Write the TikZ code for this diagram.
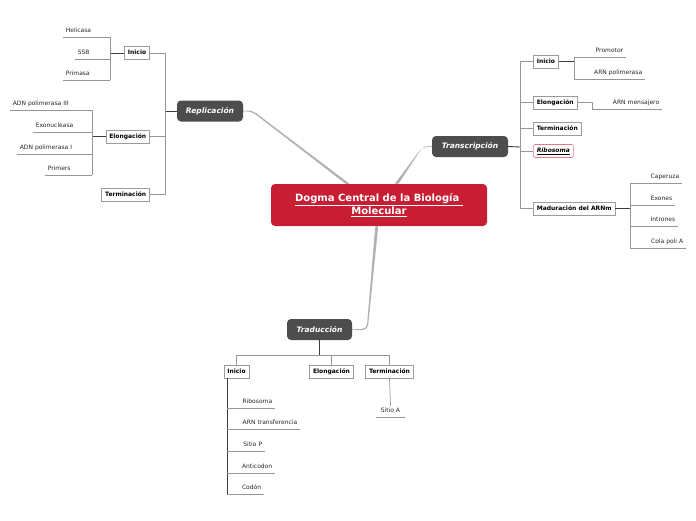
\documentclass[tikz,border=0pt]{standalone}
\usepackage{fontspec}
\setmainfont{DejaVu Sans}
\usepackage{xcolor}
\usepackage{tikz}
\usetikzlibrary{positioning, calc}
\definecolor{dogmared}{RGB}{200,30,52}
\definecolor{topicgray}{RGB}{77,77,77}
\definecolor{boxgray}{RGB}{155,155,155}
\definecolor{linkgray}{RGB}{178,178,178}
\definecolor{branchgray}{RGB}{150,150,150}
\definecolor{hubdark}{RGB}{60,60,60}
\definecolor{ribopink}{RGB}{226,118,138}
\definecolor{leafdark}{RGB}{40,40,40}
\pgfdeclarelayer{bg}
\pgfsetlayers{bg,main}
\tikzset{
  central/.style={rectangle, fill=dogmared, text=white, rounded corners=4pt,
    minimum width=216pt, minimum height=42pt, align=center,
    font=\fontsize{10}{13}\selectfont\bfseries},
  topic/.style={rectangle, fill=topicgray, text=white, rounded corners=4pt,
    minimum height=21pt, align=center,
    font=\fontsize{7.5}{9}\selectfont\bfseries\itshape},
  subbox/.style={rectangle, draw=boxgray, fill=white, line width=0.6pt,
    inner xsep=3.5pt, inner ysep=3.5pt, text height=4.6pt, text depth=1.4pt,
    font=\fontsize{6}{7}\selectfont\bfseries},
  leaf/.style={inner xsep=3pt, inner ysep=2.5pt, text height=4.6pt,
    text depth=1.4pt, text=leafdark, font=\fontsize{6}{7}\selectfont},
  leafL/.style={leaf, text width=#1, align=left, anchor=south east},
  leafR/.style={leaf, text width=#1, align=right, anchor=south west},
  branch/.style={draw=branchgray, line width=0.7pt},
  hubline/.style={draw=hubdark, line width=0.9pt}
}

\begin{document}
\begin{tikzpicture}[x=1pt, y=-1pt]
  \useasboundingbox (0,0) rectangle (696,520);
  \begin{pgfonlayer}{bg}
    \fill[white] (0,0) rectangle (696,520);
  \end{pgfonlayer}

  % Central idea
  \node[central] (dogma) at (379,205) {\underline{Dogma Central de la Biología\ }\\\underline{Molecular}};

  % Main topics
  \node[topic, minimum width=66pt] (repl) at (210,111) {Replicación};
  \node[topic, minimum width=76pt] (tran) at (470,146.5) {Transcripción};
  \node[topic, minimum width=65pt] (trad) at (319.5,329.5) {Traducción};

  % Tapered links from the centre
  \begin{pgfonlayer}{bg}
    \fill[linkgray, rounded corners=5pt]
      ($(repl.east)+(-2,-0.5)$) -- ($(repl.east)+(9.4,-0.5)$) -- ($(dogma.north)+(-25.5,3)$)
      -- ($(dogma.north)+(-29.5,3)$) -- ($(repl.east)+(8.6,0.5)$) -- ($(repl.east)+(-2,0.5)$) -- cycle;
    \fill[linkgray, rounded corners=5pt]
      ($(tran.west)+(2,-0.5)$) -- ($(tran.west)+(-8.6,-0.5)$) -- ($(dogma.north)+(17.5,3)$)
      -- ($(dogma.north)+(13.5,3)$) -- ($(tran.west)+(-9.4,0.5)$) -- ($(tran.west)+(2,0.5)$) -- cycle;
    \fill[linkgray, rounded corners=5pt]
      ($(trad.east)+(-2,-0.5)$) -- ($(trad.east)+(14.5,-0.5)$) -- ($(dogma.south)+(-3.5,-3)$)
      -- ($(dogma.south)+(-0.5,-3)$) -- ($(trad.east)+(15.5,0.5)$) -- ($(trad.east)+(-2,0.5)$) -- cycle;
  \end{pgfonlayer}

  % Replicacion
  \coordinate (rhub) at (165,111);
  \node[subbox, anchor=east] (rinicio) at (150,53) {Inicio};
  \node[subbox, anchor=east] (relong) at (150,136.5) {Elongación};
  \node[subbox, anchor=east] (rterm) at (150,194.5) {Terminación};
  \draw[hubline] (repl.west) -- (rhub);
  \draw[branch] (rinicio.east) -- (rinicio.east -| rhub) -- (rterm.east -| rhub) -- (rterm.east);
  \draw[branch] (relong.east) -- (relong.east -| rhub);

  \node[leafL=41pt] (helicasa) at (110,37) {Helicasa};
  \node[leafL=29pt] (ssb) at (110,59) {SSB};
  \node[leafL=41pt] (primasa) at (110,80) {Primasa};
  \draw[hubline] (rinicio.west) -- (rinicio.west -| helicasa.south east);
  \draw[branch] (helicasa.south east) -- (primasa.south east);

  \node[leafL=76pt] (adntres) at (92,110) {ADN polimerasa III};
  \node[leafL=53pt] (exonuc) at (92,132) {Exonucleasa};
  \node[leafL=69pt] (adnuno) at (92,154) {ADN polimerasa I};
  \node[leafL=41pt] (primers) at (92,175) {Primers};
  \draw[hubline] (relong.west) -- (relong.west -| adntres.south east);
  \draw[branch] (adntres.south east) -- (primers.south east);

  % Transcripcion
  \coordinate (thub) at (520,147);
  \node[subbox, anchor=west] (tinicio) at (533,61.5) {Inicio};
  \node[subbox, anchor=west] (telong) at (533,102.5) {Elongación};
  \node[subbox, anchor=west] (tterm) at (533,128.5) {Terminación};
  \node[subbox, anchor=west, draw=ribopink, rounded corners=2pt,
    font=\fontsize{6}{7}\selectfont\bfseries\itshape] (tribo) at (533,151) {\underline{Ribosoma}};
  \node[subbox, anchor=west] (tmad) at (533,208.5) {Maduración del ARNm};
  \draw[hubline] (tran.east) -- (thub);
  \draw[branch] (tinicio.west) -- (tinicio.west -| thub) -- (tmad.west -| thub) -- (tmad.west);
  \foreach \b in {telong, tterm, tribo}
    \draw[branch] (\b.west) -- (\b.west -| thub);

  \node[leafR=46pt] (promotor) at (574,57) {Promotor};
  \node[leafR=65pt] (arnpol) at (574,79) {ARN polimerasa};
  \draw[hubline] (tinicio.east) -- (tinicio.east -| promotor.south west);
  \draw[branch] (promotor.south west) -- (arnpol.south west);

  \node[leafR=64pt] (arnm) at (592,109) {ARN mensajero};
  \draw[branch] (telong.east) -- (telong.east -| arnm.south west) -- (arnm.south west);

  \node[leafR=46pt] (caperuza) at (630,183) {Caperuza};
  \node[leafR=39pt] (exones) at (630,205) {Exones};
  \node[leafR=42pt] (intrones) at (630,226) {Intrones};
  \node[leafR=50pt] (colapoli) at (630,248) {Cola poli A};
  \draw[hubline] (tmad.east) -- (tmad.east -| caperuza.south west);
  \draw[branch] (caperuza.south west) -- (colapoli.south west);

  % Traduccion
  \coordinate (dhub) at (319.5,355);
  \node[subbox] (dinicio) at (236.5,371.5) {Inicio};
  \node[subbox] (delong) at (331.5,371.5) {Elongación};
  \node[subbox] (dterm) at (389.5,371.5) {Terminación};
  \draw[hubline] (trad.south) -- (dhub);
  \draw[branch] (dinicio.north) -- (dinicio.north |- dhub) -- (dterm.north |- dhub) -- (dterm.north);
  \draw[branch] (delong.north) -- (delong.north |- dhub);

  \node[leafR=42pt] (ribosoma) at (227,408) {Ribosoma};
  \node[leafR=67pt] (arntrans) at (227,429) {ARN transferencia};
  \node[leafR=32pt] (sitiop) at (227,451) {Sitio P};
  \node[leafR=42pt] (anticodon) at (227,473) {Anticodon};
  \node[leafR=31pt] (codon) at (227,494) {Codón};
  \draw[hubline] (dinicio.south -| ribosoma.south west) -- (codon.south west);

  \node[leaf, anchor=south, minimum width=29pt] (sitioa) at (390.5,417) {Sitio A};
  \draw[branch] (dterm.south) -- (sitioa.north);

  % Leaf underlines
  \foreach \n in {helicasa, ssb, primasa, adntres, exonuc, adnuno, primers,
      promotor, arnpol, arnm, caperuza, exones, intrones, colapoli,
      ribosoma, arntrans, sitiop, anticodon, codon, sitioa}
    \draw[branch] (\n.south west) -- (\n.south east);
\end{tikzpicture}
\end{document}
